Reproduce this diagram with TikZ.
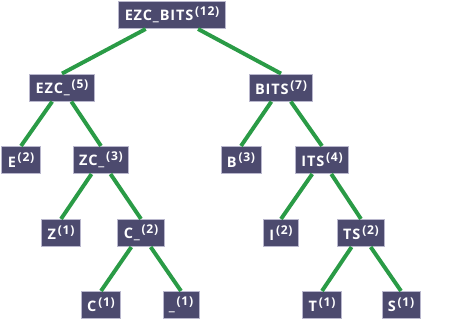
\documentclass[tikz,border=0pt]{standalone}
\usepackage{fontspec}
\setmainfont{Open Sans}[LetterSpace=6]
\usetikzlibrary{positioning}
\definecolor{nodeslate}{RGB}{76, 74, 110}
\definecolor{edgegray}{RGB}{185, 183, 205}
\definecolor{treegreen}{RGB}{42, 155, 70}
\newcommand{\cnt}[1]{\raisebox{3.8pt}{\fontsize{8.6}{10}\selectfont\kern1.3pt(#1)}}

\begin{document}
\begin{tikzpicture}[
    tbox/.style={draw=edgegray, line width=0.6pt, fill=nodeslate, text=white,
        font=\fontsize{10.3}{12}\selectfont\bfseries, inner xsep=4.2pt,
        minimum height=0.68cm},
    tedge/.style={draw=treegreen, line width=2.8pt}
]
    \useasboundingbox (0,0) rectangle (11.6,-8.025);

    \node[tbox] (t0) at (4.3,-0.375) {EZC\_BITS\cnt{12}};

    \node[tbox] (a1) at (1.55,-2.19) {EZC\_\cnt{5}};
    \node[tbox] (a2) at (7.025,-2.19) {BITS\cnt{7}};

    \node[tbox] (b1) at (0.525,-4.0) {E\cnt{2}};
    \node[tbox] (b2) at (2.525,-4.0) {ZC\_\cnt{3}};
    \node[tbox] (b3) at (6.025,-4.0) {B\cnt{3}};
    \node[tbox] (b4) at (8.05,-4.0) {ITS\cnt{4}};

    \node[tbox] (c1) at (1.525,-5.825) {Z\cnt{1}};
    \node[tbox] (c2) at (3.525,-5.825) {C\_\cnt{2}};
    \node[tbox] (c3) at (7.025,-5.825) {I\cnt{2}};
    \node[tbox] (c4) at (9.025,-5.825) {TS\cnt{2}};

    \node[tbox] (d1) at (2.525,-7.625) {C\cnt{1}};
    \node[tbox] (d2) at (4.525,-7.625) {\_\cnt{1}};
    \node[tbox] (d3) at (8.05,-7.625) {T\cnt{1}};
    \node[tbox] (d4) at (10.025,-7.625) {S\cnt{1}};

    \draw[tedge] (t0) -- (a1.north);
    \draw[tedge] (t0) -- (a2.north);
    \draw[tedge] (a1) -- (b1.north);
    \draw[tedge] (a1) -- (b2.north);
    \draw[tedge] (a2) -- (b3.north);
    \draw[tedge] (a2) -- (b4.north);
    \draw[tedge] (b2) -- (c1.north);
    \draw[tedge] (b2) -- (c2.north);
    \draw[tedge] (b4) -- (c3.north);
    \draw[tedge] (b4) -- (c4.north);
    \draw[tedge] (c2) -- (d1.north);
    \draw[tedge] (c2) -- (d2.north);
    \draw[tedge] (c4) -- (d3.north);
    \draw[tedge] (c4) -- (d4.north);
\end{tikzpicture}
\end{document}
